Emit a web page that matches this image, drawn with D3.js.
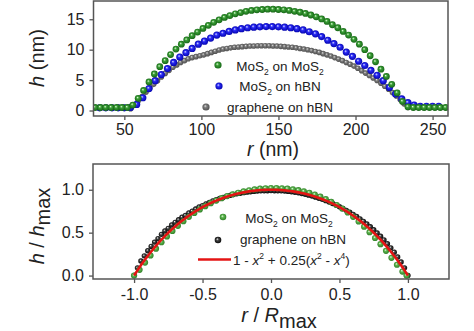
<!DOCTYPE html>
<html>
<head>
<meta charset="utf-8">
<script src="https://cdn.jsdelivr.net/npm/d3@7"></script>
<style>
  body { margin: 0; background: #fff; }
  svg { display: block; font-family: "Liberation Sans", Arial, sans-serif; }
</style>
</head>
<body>
<div id="chart"></div>
<script>
// height profiles, r in nm, h in nm
var rGreen = [31, 34.5, 38, 41.5, 45, 48.5, 52, 55.5, 59, 62.5, 66, 69.5, 73, 76.5, 80, 83.5, 87, 90.5, 94, 97.5,
  101, 104.5, 108, 111.5, 115, 118.5, 122, 125.5, 129, 132.5, 136, 139.5, 143, 146.5, 150, 153.5, 157, 160.5, 164, 167.5,
  171, 174.5, 178, 181.5, 185, 188.5, 192, 195.5, 199, 202.5, 206, 209.5, 213, 216.5, 220, 223.5, 227, 230.5, 234, 237.5,
  241, 244.5, 248, 251.5, 255, 258.5];
var hGreen = [0.5, 0.5, 0.5, 0.5, 0.5, 0.5, 0.5, 0.9, 2.0, 3.3, 4.7, 6.0, 7.2, 8.2, 9.2, 10.1, 10.9, 11.6, 12.3, 12.9,
  13.5, 14.0, 14.5, 14.9, 15.3, 15.6, 15.9, 16.1, 16.3, 16.45, 16.55, 16.6, 16.65, 16.65, 16.6, 16.55, 16.45, 16.3, 16.15, 15.95,
  15.7, 15.4, 15.05, 14.65, 14.1, 13.6, 13.0, 12.4, 11.7, 10.9, 10.0, 9.0, 8.0, 6.8, 5.6, 4.3, 2.9, 1.5, 0.6, 0.5,
  0.5, 0.5, 0.5, 0.5, 0.5, 0.5];

var rBlue = [34, 38, 42, 46, 50, 54, 58, 62, 66, 70, 74, 78, 82, 86, 90, 94, 98, 102, 106, 110,
  114, 118, 122, 126, 130, 134, 138, 142, 146, 150, 154, 158, 162, 166, 170, 174, 178, 182, 186, 190,
  194, 198, 202, 206, 210, 214, 218, 222, 226, 230, 234, 238, 242, 246, 250, 254];
var hBlue = [0.45, 0.45, 0.45, 0.45, 0.45, 0.5, 1.0, 2.1, 3.6, 4.9, 5.9, 6.9, 7.9, 8.8, 9.5, 10.2, 10.9, 11.4, 11.9, 12.4,
  12.7, 13.0, 13.25, 13.45, 13.6, 13.7, 13.75, 13.8, 13.8, 13.75, 13.7, 13.6, 13.45, 13.25, 12.95, 12.6, 12.15, 11.55, 11.0, 10.4,
  9.6, 8.9, 8.1, 7.4, 6.6, 5.8, 4.9, 3.8, 2.7, 1.9, 1.3, 0.9, 0.7, 0.7, 0.7, 0.7];

var rGray = [54, 56.5, 59, 61.5, 64, 66.5, 69, 71.5, 74, 76.5, 79, 81.5, 84, 86.5, 89, 91.5, 94, 96.5, 99, 101.5,
  104, 106.5, 109, 111.5, 114, 116.5, 119, 121.5, 124, 126.5, 129, 131.5, 134, 136.5, 139, 141.5, 144, 146.5, 149, 151.5,
  154, 156.5, 159, 161.5, 164, 166.5, 169, 171.5, 174, 176.5, 179, 181.5, 184, 186.5, 189, 191.5, 194, 196.5, 199, 201.5,
  204, 206.5, 209, 211.5, 214, 216.5, 219, 221.5, 224, 226.5, 229, 231.5, 234];
var hGray = [0.3, 0.9, 1.6, 2.3, 3.0, 3.7, 4.3, 4.9, 5.5, 6.1, 6.6, 7.1, 7.5, 7.9, 8.2, 8.5, 8.7, 8.85, 9.0, 9.15,
  9.35, 9.55, 9.75, 9.95, 10.1, 10.2, 10.3, 10.4, 10.45, 10.5, 10.55, 10.6, 10.6, 10.65, 10.65, 10.65, 10.65, 10.6, 10.6, 10.55,
  10.5, 10.45, 10.4, 10.3, 10.2, 10.1, 10.0, 9.85, 9.7, 9.55, 9.35, 9.15, 8.95, 8.7, 8.45, 8.2, 7.9, 7.6, 7.3, 6.95,
  6.55, 6.15, 5.75, 5.35, 4.95, 4.5, 4.0, 3.5, 2.95, 2.4, 1.8, 1.1, 0.5];

// normalised profiles
var xNormGreen = [-1.0, -0.96, -0.92, -0.88, -0.84, -0.8, -0.76, -0.72, -0.68, -0.64, -0.6, -0.56, -0.52, -0.48, -0.44, -0.4, -0.36,
  -0.32, -0.28, -0.24, -0.2, -0.16, -0.12, -0.08, -0.04, 0.0, 0.04, 0.08, 0.12, 0.16, 0.2, 0.24, 0.28, 0.32, 0.36, 0.4,
  0.44, 0.48, 0.52, 0.56, 0.6, 0.64, 0.68, 0.72, 0.76, 0.8, 0.84, 0.88, 0.92, 0.96, 0.99];
var yNormGreen = [0.0, 0.067, 0.151, 0.234, 0.313, 0.388, 0.456, 0.52, 0.58, 0.634, 0.684, 0.729, 0.771, 0.809, 0.843, 0.874, 0.902,
  0.926, 0.947, 0.965, 0.981, 0.994, 1.004, 1.012, 1.017, 1.02, 1.02, 1.017, 1.012, 1.005, 0.995, 0.981, 0.964, 0.943, 0.919, 0.891,
  0.858, 0.822, 0.781, 0.735, 0.685, 0.63, 0.57, 0.506, 0.438, 0.366, 0.288, 0.207, 0.126, 0.047, 0.0];

var xNormBlack = [-1.0, -0.975, -0.95, -0.925, -0.9, -0.875, -0.85, -0.825, -0.8, -0.775, -0.75, -0.725, -0.7, -0.675, -0.65, -0.625,
  -0.6, -0.575, -0.55, -0.525, -0.5, -0.475, -0.45, -0.425, -0.4, -0.375, -0.35, -0.325, -0.3, -0.275, -0.25, -0.225,
  -0.2, -0.175, -0.15, -0.125, -0.1, -0.075, -0.05, -0.025, 0.0, 0.025, 0.05, 0.075, 0.1, 0.125, 0.15, 0.175,
  0.2, 0.225, 0.25, 0.275, 0.3, 0.325, 0.35, 0.375, 0.4, 0.425, 0.45, 0.475, 0.5, 0.525, 0.55, 0.575,
  0.6, 0.625, 0.65, 0.675, 0.7, 0.725, 0.75, 0.775, 0.8, 0.825, 0.85, 0.875, 0.9, 0.925, 0.95, 0.975, 1.0];
var yNormBlack = [0.0, 0.09, 0.17, 0.23, 0.29, 0.34, 0.39, 0.43, 0.48, 0.52, 0.55, 0.59, 0.62, 0.65, 0.68, 0.70,
  0.73, 0.75, 0.775, 0.80, 0.815, 0.835, 0.853, 0.87, 0.885, 0.898, 0.911, 0.923, 0.934, 0.944, 0.952, 0.959,
  0.966, 0.972, 0.977, 0.981, 0.985, 0.987, 0.988, 0.989, 0.99, 0.989, 0.988, 0.987, 0.985, 0.981, 0.977, 0.971,
  0.964, 0.956, 0.947, 0.937, 0.926, 0.914, 0.901, 0.888, 0.873, 0.857, 0.84, 0.822, 0.802, 0.782, 0.76, 0.737,
  0.713, 0.688, 0.661, 0.632, 0.601, 0.568, 0.533, 0.496, 0.458, 0.416, 0.371, 0.323, 0.272, 0.217, 0.158, 0.09, 0.0];

var topXTicks = [50, 100, 150, 200, 250];
var topYTicks = [0, 5, 10, 15];
var botXTicks = [-1.0, -0.5, 0.0, 0.5, 1.0];
var botYTicks = [0.0, 0.5, 1.0];

var zip = function (a, b) { return a.map(function (v, i) { return [v, b[i]]; }); };
// plain hyphen for negatives, one decimal
var fmt1 = function (d) { return d3.format('.1f')(d).replace('\u2212', '-'); };

var width = 474, height = 331;
var svg = d3.select('#chart').append('svg')
  .attr('width', width)
  .attr('height', height);
svg.append('rect').attr('width', width).attr('height', height).attr('fill', '#fff');

// shaded sphere look for the markers
var defs = svg.append('defs');
function sphere(id, light, mid, dark) {
  var g = defs.append('radialGradient').attr('id', id)
    .attr('cx', '50%').attr('cy', '50%').attr('r', '55%')
    .attr('fx', '38%').attr('fy', '35%');
  g.append('stop').attr('offset', '0%').attr('stop-color', light);
  g.append('stop').attr('offset', '35%').attr('stop-color', mid);
  g.append('stop').attr('offset', '100%').attr('stop-color', dark);
}
sphere('gGreen', '#e8ffe0', '#3a9e36', '#126012');
sphere('gBlue', '#e0e4ff', '#2a2af5', '#0000a8');
sphere('gGray', '#e6e6e6', '#7e7e7e', '#4a4a4a');
sphere('gGreen2', '#f0fff0', '#5fb651', '#2a7a22');
sphere('gBlack', '#ffffff', '#444444', '#000000');

function frame(x0, y0, x1, y1) {
  svg.append('rect')
    .attr('x', x0).attr('y', y0)
    .attr('width', x1 - x0).attr('height', y1 - y0)
    .attr('fill', 'none').attr('stroke', '#555').attr('stroke-width', 1.5);
}

function styleAxis(g) {
  g.select('.domain').remove();
  g.selectAll('.tick line').attr('stroke', '#555').attr('stroke-width', 1.3);
  g.selectAll('.tick text').attr('font-size', 16).attr('fill', '#222')
    .attr('font-family', '"Liberation Sans", Arial, sans-serif');
}

function dots(g, data, xs, ys, r, fill) {
  g.append('g').selectAll('circle').data(data).join('circle')
    .attr('cx', function (d) { return xs(d[0]); })
    .attr('cy', function (d) { return ys(d[1]); })
    .attr('r', r)
    .attr('fill', fill);
}

// ---------- top panel ----------
var t = { left: 93.5, right: 448, top: 1, bottom: 116 };
var xTop = d3.scaleLinear().domain([30, 260]).range([t.left, t.right]);
var yTop = d3.scaleLinear().domain([-0.9, 18.0]).range([t.bottom, t.top]);

svg.append('g').attr('transform', 'translate(0,' + t.bottom + ')')
  .call(d3.axisBottom(xTop).tickValues(topXTicks).tickSize(4).tickPadding(4))
  .call(styleAxis);
svg.append('g').attr('transform', 'translate(' + t.left + ',0)')
  .call(d3.axisLeft(yTop).tickValues(topYTicks).tickSize(4).tickPadding(5))
  .call(styleAxis);

var clipTop = defs.append('clipPath').attr('id', 'clipTop');
clipTop.append('rect').attr('x', t.left).attr('y', t.top).attr('width', t.right - t.left).attr('height', t.bottom - t.top);
var plotTop = svg.append('g').attr('clip-path', 'url(#clipTop)');

dots(plotTop, zip(rGray, hGray), xTop, yTop, 2.8, 'url(#gGray)');
dots(plotTop, zip(rBlue, hBlue), xTop, yTop, 3.6, 'url(#gBlue)');
dots(plotTop, zip(rGreen, hGreen), xTop, yTop, 3.4, 'url(#gGreen)');
frame(t.left, t.top, t.right, t.bottom);

// legend
var legTop = [
  { y: 71, mx: 218, my: 65, fill: 'url(#gGreen)', parts: [['MoS'], ['2', 'sub'], [' on MoS'], ['2', 'sub']] },
  { y: 91, mx: 219, my: 86, fill: 'url(#gBlue)', parts: [['MoS'], ['2', 'sub'], [' on hBN']] },
  { y: 112, mx: 206, my: 107, fill: 'url(#gGray)', parts: [['graphene on hBN']] }
];
legTop.forEach(function (d) {
  svg.append('circle').attr('cx', d.mx).attr('cy', d.my).attr('r', 3.6).attr('fill', d.fill);
  var tx = svg.append('text').attr('x', 280).attr('y', d.y).attr('font-size', 13.5)
    .attr('fill', '#222').attr('text-anchor', 'middle');
  d.parts.forEach(function (p, i) {
    var s = tx.append('tspan').text(p[0]);
    if (p[1] === 'sub') s.attr('font-size', 8.5).attr('dy', 4);
    else if (i > 0 && d.parts[i - 1][1] === 'sub') s.attr('dy', -4);
  });
});

// axis titles
var hTitle = svg.append('text')
  .attr('transform', 'translate(44,58) rotate(-90)')
  .attr('text-anchor', 'middle').attr('font-size', 20).attr('fill', '#222');
hTitle.append('tspan').attr('font-style', 'italic').text('h');
hTitle.append('tspan').text(' (nm)');

var rTitle = svg.append('text').attr('x', 273).attr('y', 155.5)
  .attr('text-anchor', 'middle').attr('font-size', 19.5).attr('fill', '#222');
rTitle.append('tspan').attr('font-style', 'italic').text('r');
rTitle.append('tspan').text(' (nm)');

// ---------- bottom panel ----------
var b = { left: 93, right: 449, top: 164, bottom: 279 };
var xBot = d3.scaleLinear().domain([-1.3, 1.3]).range([b.left, b.right]);
var yBot = d3.scaleLinear().domain([-0.04, 1.3]).range([b.bottom, b.top]);

svg.append('g').attr('transform', 'translate(0,' + b.bottom + ')')
  .call(d3.axisBottom(xBot).tickValues(botXTicks).tickFormat(fmt1).tickSize(4).tickPadding(6))
  .call(styleAxis);
svg.append('g').attr('transform', 'translate(' + b.left + ',0)')
  .call(d3.axisLeft(yBot).tickValues(botYTicks).tickFormat(fmt1).tickSize(4).tickPadding(5))
  .call(styleAxis);

var clipBot = defs.append('clipPath').attr('id', 'clipBot');
clipBot.append('rect').attr('x', b.left).attr('y', b.top).attr('width', b.right - b.left).attr('height', b.bottom - b.top + 4);
var plotBot = svg.append('g').attr('clip-path', 'url(#clipBot)');

dots(plotBot, zip(xNormBlack, yNormBlack), xBot, yBot, 2.7, 'url(#gBlack)');
dots(plotBot, zip(xNormGreen, yNormGreen), xBot, yBot, 3.1, 'url(#gGreen2)');

// fit: 1 - x^2 + 0.25(x^2 - x^4)
var fit = function (x) { return 1 - x * x + 0.25 * (x * x - Math.pow(x, 4)); };
var fitData = d3.range(-1, 1.0001, 0.01).map(function (x) { return [x, fit(x)]; });
plotBot.append('path').datum(fitData)
  .attr('fill', 'none').attr('stroke', '#e41414').attr('stroke-width', 2.6)
  .attr('d', d3.line().x(function (d) { return xBot(d[0]); }).y(function (d) { return yBot(d[1]); }));
frame(b.left, b.top, b.right, b.bottom);

// legend
svg.append('circle').attr('cx', 223).attr('cy', 217).attr('r', 3.3).attr('fill', 'url(#gGreen2)');
svg.append('circle').attr('cx', 218).attr('cy', 240).attr('r', 3.3).attr('fill', 'url(#gBlack)');
svg.append('line').attr('x1', 198).attr('x2', 231).attr('y1', 259.5).attr('y2', 259.5)
  .attr('stroke', '#e41414').attr('stroke-width', 2.6);

var l1 = svg.append('text').attr('x', 289).attr('y', 223).attr('font-size', 13.5)
  .attr('fill', '#222').attr('text-anchor', 'middle');
l1.append('tspan').text('MoS');
l1.append('tspan').attr('font-size', 8.5).attr('dy', 4).text('2');
l1.append('tspan').attr('dy', -4).text(' on MoS');
l1.append('tspan').attr('font-size', 8.5).attr('dy', 4).text('2');

svg.append('text').attr('x', 293).attr('y', 244).attr('font-size', 13.5)
  .attr('fill', '#222').attr('text-anchor', 'middle').text('graphene on hBN');

var l3 = svg.append('text').attr('x', 233).attr('y', 265).attr('font-size', 13.5)
  .attr('fill', '#222').attr('text-anchor', 'start');
l3.append('tspan').text('1 - ');
l3.append('tspan').attr('font-style', 'italic').text('x');
l3.append('tspan').attr('font-size', 8.5).attr('dy', -6).text('2');
l3.append('tspan').attr('dy', 6).text(' + 0.25(');
l3.append('tspan').attr('font-style', 'italic').text('x');
l3.append('tspan').attr('font-size', 8.5).attr('dy', -6).text('2');
l3.append('tspan').attr('dy', 6).text(' - ');
l3.append('tspan').attr('font-style', 'italic').text('x');
l3.append('tspan').attr('font-size', 8.5).attr('dy', -6).text('4');
l3.append('tspan').attr('dy', 6).text(')');

// axis titles
var hnTitle = svg.append('text')
  .attr('transform', 'translate(44,226) rotate(-90)')
  .attr('text-anchor', 'middle').attr('font-size', 20).attr('fill', '#222');
hnTitle.append('tspan').attr('font-style', 'italic').text('h');
hnTitle.append('tspan').text(' / ');
hnTitle.append('tspan').attr('font-style', 'italic').text('h');
hnTitle.append('tspan').attr('dy', 6).text('max');

var rnTitle = svg.append('text').attr('x', 279).attr('y', 322)
  .attr('text-anchor', 'middle').attr('font-size', 20).attr('fill', '#222');
rnTitle.append('tspan').attr('font-style', 'italic').text('r');
rnTitle.append('tspan').text(' / ');
rnTitle.append('tspan').attr('font-style', 'italic').text('R');
rnTitle.append('tspan').attr('dy', 6).text('max');
</script>
</body>
</html>
